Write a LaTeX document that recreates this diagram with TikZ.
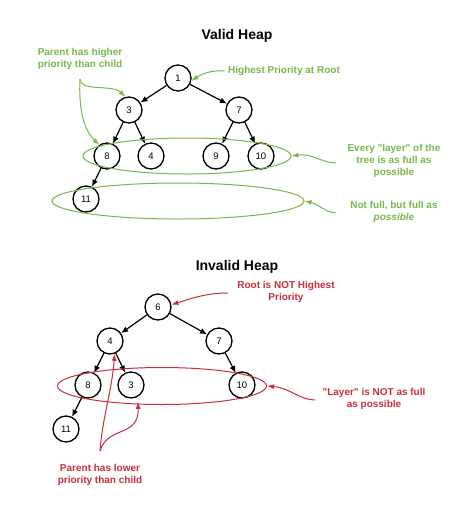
\documentclass[tikz,border=0pt]{standalone}
\usepackage{fontspec}
\setmainfont{Liberation Sans}[Ligatures=TeXOff]
\usetikzlibrary{shapes.geometric, arrows.meta}
\definecolor{okgreen}{HTML}{7AB648}
\definecolor{badred}{HTML}{C92D39}

\begin{document}
\begin{tikzpicture}[x=1pt, y=-1pt,
  key/.style={circle, draw, line width=1.3pt, minimum size=26pt, inner sep=0pt, font=\fontsize{9.5}{11}\selectfont},
  heading/.style={font=\fontsize{14}{16}\selectfont\bfseries},
  note/.style={align=center, font=\fontsize{10}{12}\selectfont\bfseries},
  ring/.style={ellipse, draw, line width=1pt, inner sep=0pt},
  pointer/.style={line width=1pt, -{Latex[length=7pt, width=5pt]}},
  every edge/.style={draw, line width=1.2pt}]
\useasboundingbox (0,0) rectangle (474,515);

% valid heap
\node (t1) [heading] at (237,36) {Valid Heap};
\node (v1) [key] at (178,78) {1};
\node (v3) [key] at (129,110) {3};
\node (v7) [key] at (239,110) {7};
\node (v8) [key] at (107,156) {8};
\node (v4) [key] at (151,156) {4};
\node (v9) [key] at (216,156) {9};
\node (v10) [key] at (261,156) {10};
\node (v11) [key] at (86,199) {11};
\path [-{Latex[length=7pt, width=6pt]}]
     (v1) edge (v3)
     (v1) edge (v7)
     (v3) edge (v8)
     (v3) edge (v4)
     (v7) edge (v9)
     (v7) edge (v10)
     (v8) edge (v11);

\node (lay1) [ring, okgreen, minimum width=208pt, minimum height=36pt] at (187,156) {};
\node (lay2) [ring, okgreen, minimum width=252pt, minimum height=36pt] at (178,201) {};

\node (ph) [note, okgreen] at (80,58.5) {Parent has higher\\priority than child};
\node (hp) [note, okgreen] at (284,71) {Highest Priority at Root};
\node (ev) [note, okgreen] at (394,161) {Every "layer" of the\\tree is as full as\\possible};
\node (nf) [note, okgreen] at (394,212) {Not full, but full as\\\textit{possible}};
\coordinate (ph-tail) at (80,79);
\coordinate (ev-tail) at (336,163);
\coordinate (nf-tail) at (336,213);

\draw [pointer, okgreen] (ph-tail) .. controls (80,92) and (112,84) .. (v3.105);
\draw [pointer, okgreen] (ph-tail) .. controls (78,118) and (88,134) .. (v8.125);
\draw [pointer, okgreen] (hp.west) .. controls (210,70) and (202,74) .. (v1.-12);
\draw [pointer, okgreen] (ev-tail) .. controls (322,163) and (312,153) .. (lay1.east);
\draw [pointer, okgreen] (nf-tail) .. controls (325,212) and (318,204) .. (lay2.east);

% invalid heap
\node (t2) [heading] at (237,267) {Invalid Heap};
\node (i6) [key] at (158,307) {6};
\node (i4) [key] at (110,341) {4};
\node (i7) [key] at (219,341) {7};
\node (i8) [key] at (88,385) {8};
\node (i3) [key] at (131,385) {3};
\node (i10) [key] at (242,385) {10};
\node (i11) [key] at (66,429) {11};
\path [-{Latex[length=7pt, width=6pt]}]
     (i6) edge (i4)
     (i6) edge (i7)
     (i4) edge (i8)
     (i4) edge (i3)
     (i7) edge (i10)
     (i8) edge (i11);

\node (bad) [ring, badred, minimum width=209pt, minimum height=37pt] at (162,386) {};

\node (rn) [note, badred] at (286,292) {Root is NOT Highest\\Priority};
\node (ln) [note, badred] at (374,398.5) {"Layer" is NOT as full\\as possible};
\node (pl) [note, badred] at (100,475) {Parent has lower\\priority than child};
\coordinate (rn-tail) at (228,293);
\coordinate (ln-tail) at (315,400);
\coordinate (pl-tail) at (100,451);

\draw [pointer, badred] (rn-tail) .. controls (205,293) and (190,299) .. (i6.10);
\draw [pointer, badred] (ln-tail) .. controls (300,400) and (290,388) .. (bad.east);
\draw [pointer, badred] (pl-tail) .. controls (102,420) and (112,390) .. (i4.-70);
\draw [pointer, badred, shorten >=5pt] (pl-tail) .. controls (108,425) and (139,438) .. (i3.-60);
\end{tikzpicture}
\end{document}
